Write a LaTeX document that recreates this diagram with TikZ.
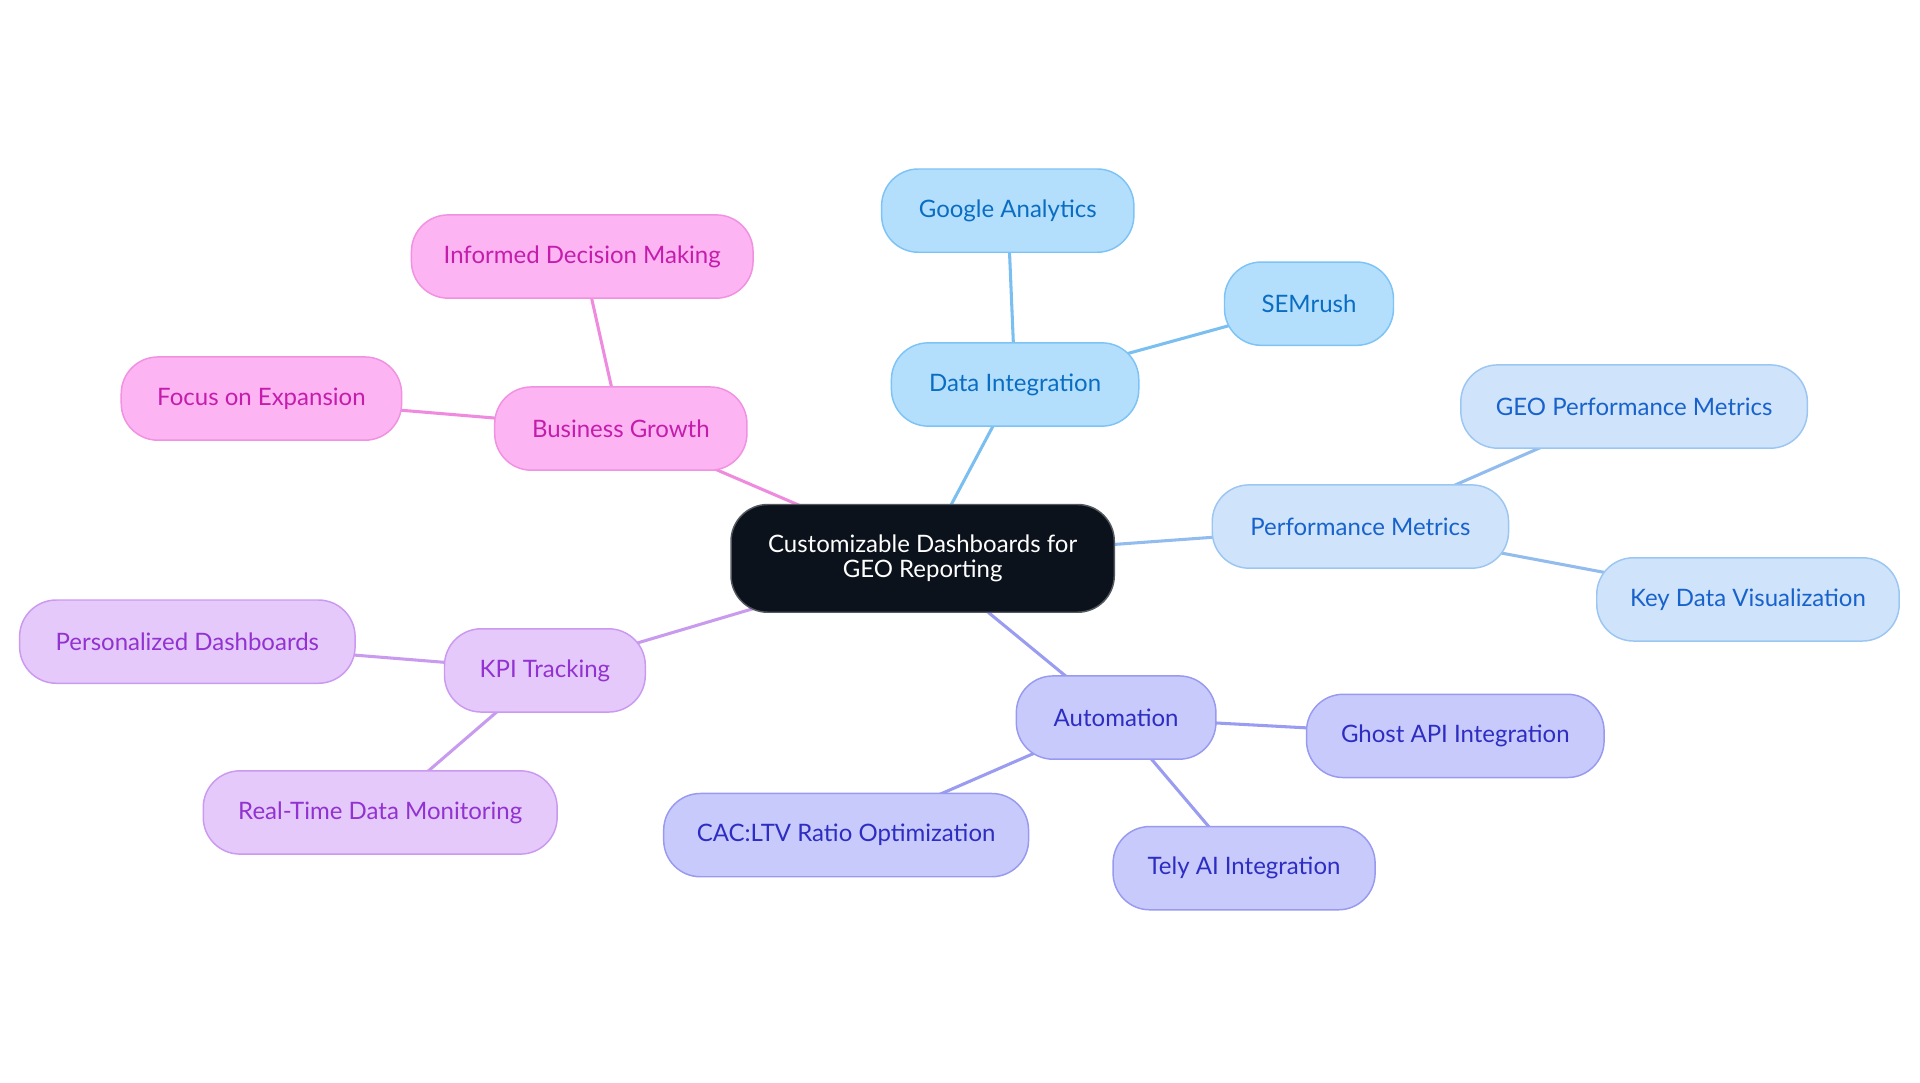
\documentclass[tikz,border=0pt]{standalone}
\usepackage{fontspec}
\setmainfont{Lato}
\usetikzlibrary{backgrounds}
\definecolor{diFill}{HTML}{B3DFFD}\definecolor{diDraw}{HTML}{7EC3F5}\definecolor{diText}{HTML}{0A6DC2}\definecolor{diEdge}{HTML}{7BBEF0}
\definecolor{pmFill}{HTML}{CFE3FB}\definecolor{pmDraw}{HTML}{9CC6F2}\definecolor{pmText}{HTML}{1862CC}\definecolor{pmEdge}{HTML}{92BCEE}
\definecolor{auFill}{HTML}{C8CAFC}\definecolor{auDraw}{HTML}{989AF0}\definecolor{auText}{HTML}{2D2DC2}\definecolor{auEdge}{HTML}{9A9CF1}
\definecolor{kpFill}{HTML}{E6C9FB}\definecolor{kpDraw}{HTML}{CB99F0}\definecolor{kpText}{HTML}{9232D0}\definecolor{kpEdge}{HTML}{C89BEF}
\definecolor{bgFill}{HTML}{FDB4F3}\definecolor{bgDraw}{HTML}{F091E1}\definecolor{bgText}{HTML}{C51DAB}\definecolor{bgEdge}{HTML}{EF8BDE}
\definecolor{ctFill}{HTML}{0C121C}\definecolor{ctDraw}{HTML}{545960}
\tikzset{
  box/.style={draw, rounded corners=30pt, minimum height=68pt, inner sep=0pt, line width=1.2pt, font=\fontsize{19.6}{23}\selectfont},
  di/.style={box, fill=diFill, draw=diDraw, text=diText},
  pm/.style={box, fill=pmFill, draw=pmDraw, text=pmText},
  au/.style={box, fill=auFill, draw=auDraw, text=auText},
  kp/.style={box, fill=kpFill, draw=kpDraw, text=kpText},
  bg/.style={box, fill=bgFill, draw=bgDraw, text=bgText},
  ct/.style={box, fill=ctFill, draw=ctDraw, text=white, minimum height=88pt, align=center, font=\fontsize{19.6}{21}\selectfont},
  link/.style={line width=2.5pt, line cap=round}
}
\begin{document}
\begin{tikzpicture}[x=1pt,y=-1pt]
\useasboundingbox (0,0) rectangle (1568,884);
\node[ct, minimum width=313pt] (c) at (753.5,456) {Customizable Dashboards for\\GEO Reporting};
\node[di, minimum width=202pt] (di) at (829,314) {Data Integration};
\node[di, minimum width=206pt] (ga) at (823,172) {Google Analytics};
\node[di, minimum width=138pt] (se) at (1069,248) {SEMrush};
\node[pm, minimum width=242pt] (pm) at (1111,430) {Performance Metrics};
\node[pm, minimum width=283pt] (gp) at (1334.5,332) {GEO Performance Metrics};
\node[pm, minimum width=247pt] (kd) at (1427.5,489.5) {Key Data Visualization};
\node[au, minimum width=163pt] (au) at (911.5,586) {Automation};
\node[au, minimum width=243pt] (gh) at (1188.5,601) {Ghost API Integration};
\node[au, minimum width=214pt] (ty) at (1016,709) {Tely AI Integration};
\node[au, minimum width=298pt] (cl) at (691,682) {CAC:LTV Ratio Optimization};
\node[kp, minimum width=164pt] (kp) at (445,547.5) {KPI Tracking};
\node[kp, minimum width=274pt] (pd) at (153,524) {Personalized Dashboards};
\node[kp, minimum width=289pt] (rt) at (310.5,663.5) {Real-Time Data Monitoring};
\node[bg, minimum width=206pt] (bg) at (507,350) {Business Growth};
\node[bg, minimum width=279pt] (id) at (475.5,209.5) {Informed Decision Making};
\node[bg, minimum width=229pt] (fe) at (213.5,325.5) {Focus on Expansion};
\begin{scope}[on background layer]
\draw[link, diEdge] (c.center) -- (di.center);
\draw[link, diEdge] (di.center) -- (ga.center);
\draw[link, diEdge] (di.center) -- (se.center);
\draw[link, pmEdge] (c.center) -- (pm.center);
\draw[link, pmEdge] (pm.center) -- (gp.center);
\draw[link, pmEdge] (pm.center) -- (kd.center);
\draw[link, auEdge] (c.center) -- (au.center);
\draw[link, auEdge] (au.center) -- (gh.center);
\draw[link, auEdge] (au.center) -- (ty.center);
\draw[link, auEdge] (au.center) -- (cl.center);
\draw[link, kpEdge] (c.center) -- (kp.center);
\draw[link, kpEdge] (kp.center) -- (pd.center);
\draw[link, kpEdge] (kp.center) -- (rt.center);
\draw[link, bgEdge] (c.center) -- (bg.center);
\draw[link, bgEdge] (bg.center) -- (id.center);
\draw[link, bgEdge] (bg.center) -- (fe.center);
\end{scope}
\end{tikzpicture}
\end{document}
